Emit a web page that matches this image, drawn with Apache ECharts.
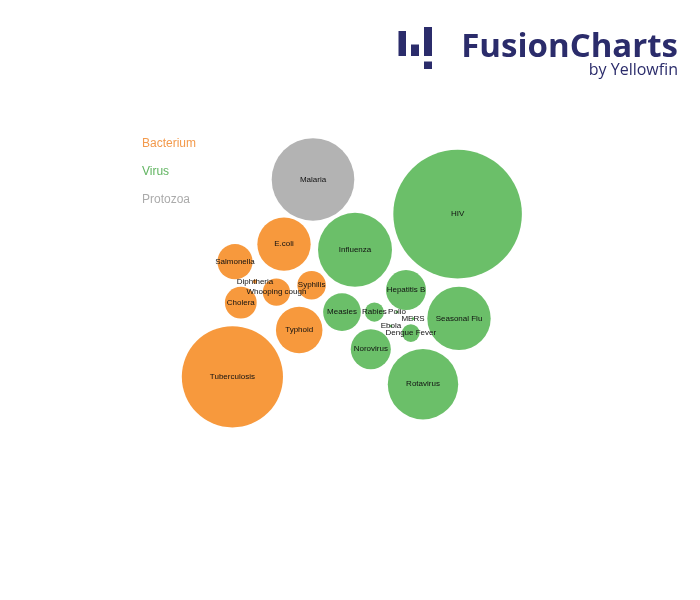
<!DOCTYPE html>
<html>
<head>
<meta charset="utf-8">
<script src="https://cdn.jsdelivr.net/npm/echarts@6/dist/echarts.min.js"></script>
<style>html,body{margin:0;padding:0;background:#fff;}#c{width:700px;height:600px;}</style>
</head>
<body>
<div id="c"></div>
<script>
// Categories (legend)
var categories = ['Bacterium', 'Virus', 'Protozoa'];
var categoryColors = ['#F7993D', '#6BBF69', '#B3B3B3'];
var legendColors = ['#F39A4C', '#62B562', '#ABABAB'];

// Bubble data: [name, x, y, size]
var bacterium = [
  ['Tuberculosis', 20.6, 20.9, 619],
  ['E.coli', 33.5, 58.8, 172],
  ['Typhoid', 37.3, 34.3, 131],
  ['Salmonella', 21.25, 53.8, 75],
  ['Cholera', 22.7, 42.1, 61],
  ['Syphilis', 40.4, 47.1, 49],
  ['Whooping cough', 31.6, 45.1, 45],
  ['Diphtheria', 26.25, 48.1, 1]
];
var virus = [
  ['HIV', 76.9, 67.4, 1000],
  ['Influenza', 51.25, 57.2, 331],
  ['Rotavirus', 68.25, 18.8, 300],
  ['Seasonal Flu', 77.25, 37.6, 243],
  ['Hepatitis B', 64.0, 45.7, 97],
  ['Norovirus', 55.2, 28.8, 97],
  ['Measles', 48.0, 39.4, 86],
  ['Rabies', 56.1, 39.4, 22],
  ['Dengue Fever', 65.2, 33.4, 19],
  ['Polio', 61.75, 39.4, 0.5],
  ['MERS', 65.75, 37.5, 0.5],
  ['Ebola', 60.25, 35.4, 0.5]
];
var protozoa = [
  ['Malaria', 40.75, 77.3, 413]
];
var seriesData = [bacterium, virus, protozoa];

var chart = echarts.init(document.getElementById('c'));
var series = categories.map(function (cat, i) {
  return {
    name: cat,
    type: 'scatter',
    data: seriesData[i].map(function (d) { return { name: d[0], value: [d[1], d[2], d[3]] }; }),
    symbolSize: function (v) { return 4.066 * Math.sqrt(v[2]); },
    itemStyle: { color: categoryColors[i], opacity: 1 },
    label: {
      show: true, position: 'inside', formatter: '{b}',
      color: '#111', fontSize: 8, fontFamily: 'Arial, Liberation Sans, sans-serif'
    },
    emphasis: { disabled: true },
    clip: false
  };
});

chart.setOption({
  animation: false,
  backgroundColor: '#ffffff',
  grid: { left: 150, top: 100, width: 400, height: 350 },
  xAxis: { type: 'value', min: 0, max: 100, show: false },
  yAxis: { type: 'value', min: 0, max: 100, show: false },
  legend: {
    orient: 'vertical', left: 132, top: 132,
    itemWidth: 0, itemHeight: 14, itemGap: 14,
    selectedMode: false,
    data: categories.map(function (c, i) {
      return { name: c, icon: 'rect', itemStyle: { opacity: 0 }, textStyle: { color: legendColors[i], fontSize: 12, fontFamily: 'Arial, Liberation Sans, sans-serif' } };
    })
  },
  graphic: [
    { type: 'rect', shape: { x: 398.5, y: 31, width: 7.5, height: 25 }, style: { fill: '#2B2C6B' } },
    { type: 'rect', shape: { x: 411, y: 44.5, width: 8, height: 11.5 }, style: { fill: '#2B2C6B' } },
    { type: 'rect', shape: { x: 424, y: 27, width: 8, height: 29 }, style: { fill: '#2B2C6B' } },
    { type: 'rect', shape: { x: 424, y: 61.5, width: 8, height: 7.5 }, style: { fill: '#2B2C6B' } },
    { type: 'text', style: { x: 678, y: 64, text: 'FusionCharts', textAlign: 'right', textVerticalAlign: 'bottom', fill: '#2B2C6B', font: 'bold 33px "Open Sans", sans-serif' } },
    { type: 'text', style: { x: 678, y: 78, text: 'by Yellowfin', textAlign: 'right', textVerticalAlign: 'bottom', fill: '#2B2C6B', font: '16px "Open Sans", sans-serif' } }
  ],
  series: series
});
</script>
</body>
</html>
